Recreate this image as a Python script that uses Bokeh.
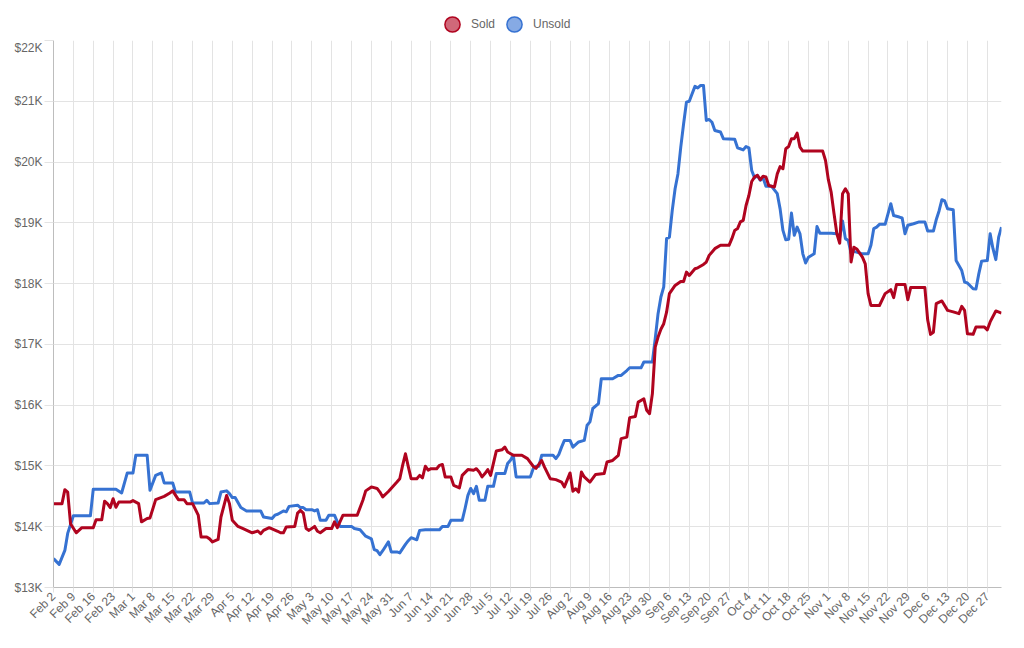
from datetime import date, datetime
from bokeh.plotting import figure
from bokeh.layouts import column
from bokeh.models import FixedTicker, Legend, LegendItem, Range1d
from bokeh.embed import file_html
from bokeh.resources import INLINE

# ---- data (x = days since 2020-02-02) ----
unsold_day = [0, 2, 4, 5, 7, 13, 14, 22, 24, 26, 28, 29, 33, 34, 36, 38, 39, 42, 43, 48,
              49, 53, 54, 55, 58, 59, 61, 62, 63, 64, 66, 68, 73, 74, 77, 78, 79, 81, 82, 83,
              86, 87, 88, 89, 91, 92, 93, 94, 96, 97, 99, 100, 101, 105, 106, 108, 110, 112, 113, 114,
              115, 116, 118, 119, 121, 122, 124, 125, 126, 128, 129, 131, 136, 137, 139, 140, 144, 145, 146, 147,
              148, 149, 150, 152, 153, 155, 156, 159, 160, 161, 162, 163, 168, 169, 170, 171, 172, 176, 177, 178,
              179, 180, 182, 183, 185, 187, 188, 189, 190, 192, 193, 197, 199, 200, 202, 203, 207, 208, 211, 212,
              213, 214, 215, 216, 217, 218, 219, 220, 221, 222, 223, 224, 225, 226, 227, 228, 229, 230, 231, 232,
              233, 235, 236, 240, 241, 243, 244, 245, 246, 247, 248, 249, 250, 251, 253, 255, 256, 257, 258, 259,
              260, 261, 262, 263, 264, 265, 266, 268, 269, 270, 274, 276, 277, 278, 279, 280, 281, 282, 285, 287,
              288, 289, 290, 291, 293, 295, 296, 298, 299, 300, 301, 303, 305, 307, 308, 310, 311, 312, 313, 314,
              315, 317, 318, 320, 321, 322, 324, 325, 326, 327, 329, 330, 331, 332, 333, 334]
unsold_value = [13475, 13380, 13610, 13890, 14180, 14180, 14615, 14615, 14555, 14885, 14885, 15175, 15175, 14600, 14845, 14885, 14720, 14720, 14570, 14570,
                14390, 14390, 14435, 14380, 14390, 14570, 14590, 14545, 14480, 14480, 14315, 14260, 14260, 14160, 14135, 14190, 14205, 14260, 14245, 14335,
                14355, 14315, 14315, 14280, 14280, 14260, 14280, 14105, 14105, 14190, 14190, 14080, 14005, 14005, 13970, 13950, 13845, 13800, 13625, 13605,
                13540, 13605, 13750, 13585, 13585, 13570, 13710, 13770, 13820, 13785, 13940, 13950, 13950, 14005, 14005, 14105, 14105, 14300, 14515, 14630,
                14545, 14665, 14435, 14435, 14665, 14665, 14875, 14875, 15040, 15095, 15175, 14820, 14820, 14955, 14995, 14995, 15175, 15175, 15120, 15185,
                15310, 15420, 15420, 15310, 15395, 15420, 15670, 15725, 15945, 16025, 16435, 16435, 16490, 16490, 16570, 16615, 16615, 16710, 16710, 17095,
                17505, 17780, 17945, 18740, 18765, 19205, 19560, 19805, 20245, 20630, 20985, 21000, 21125, 21245, 21220, 21260, 21260, 20685, 20700, 20655,
                20520, 20495, 20385, 20375, 20235, 20200, 20255, 20235, 19860, 19740, 19780, 19700, 19740, 19600, 19600, 19480, 19230, 18875, 18720, 18730,
                19160, 18795, 18930, 18820, 18490, 18340, 18435, 18490, 18940, 18830, 18830, 18820, 18765, 19030, 18740, 18710, 18500, 18530, 18490, 18490,
                18630, 18905, 18930, 18975, 18975, 19315, 19120, 19095, 19080, 18820, 18960, 18985, 19015, 19015, 18865, 18865, 19050, 19195, 19380, 19360,
                19230, 19215, 18380, 18215, 18025, 18010, 17915, 17910, 18160, 18370, 18380, 18820, 18575, 18395, 18765, 18930]

sold_day = [0, 3, 4, 5, 6, 8, 10, 14, 15, 17, 18, 19, 20, 21, 22, 23, 27, 28, 30, 31,
            33, 34, 36, 39, 41, 42, 44, 46, 47, 49, 51, 52, 54, 55, 56, 58, 59, 61, 62, 63,
            65, 67, 70, 72, 73, 74, 76, 79, 80, 81, 82, 85, 86, 87, 88, 89, 90, 92, 93, 94,
            96, 98, 99, 100, 102, 107, 109, 110, 112, 114, 115, 116, 118, 121, 122, 123, 124, 125, 126, 128,
            129, 130, 131, 132, 133, 135, 136, 137, 138, 140, 141, 143, 144, 146, 148, 149, 150, 151, 152, 153,
            154, 156, 158, 159, 160, 162, 165, 167, 169, 170, 172, 173, 175, 177, 179, 180, 182, 183, 184, 185,
            186, 187, 189, 191, 194, 195, 197, 199, 200, 202, 203, 205, 206, 208, 209, 210, 211, 212, 213, 214,
            215, 216, 217, 219, 221, 222, 223, 224, 226, 227, 229, 230, 231, 233, 235, 238, 239, 240, 241, 242,
            243, 244, 245, 246, 247, 248, 249, 250, 251, 252, 254, 255, 256, 257, 258, 259, 260, 261, 262, 263,
            264, 271, 272, 273, 274, 275, 276, 277, 278, 279, 280, 281, 282, 283, 285, 286, 287, 288, 291, 293,
            295, 296, 297, 300, 301, 302, 307, 308, 309, 310, 311, 313, 315, 317, 319, 320, 321, 322, 324, 325,
            328, 329, 330, 332, 334]
sold_value = [14380, 14380, 14610, 14570, 14050, 13900, 13985, 13985, 14115, 14115, 14420, 14380, 14315, 14460, 14320, 14405, 14405, 14430, 14380, 14080,
              14135, 14145, 14445, 14500, 14555, 14590, 14445, 14445, 14380, 14380, 14190, 13830, 13830, 13800, 13750, 13790, 14160, 14515, 14380, 14105,
              14005, 13965, 13900, 13930, 13885, 13940, 13985, 13925, 13900, 13900, 13995, 14005, 14225, 14270, 14225, 13970, 13940, 14005, 13925, 13900,
              13970, 13970, 14080, 13985, 14190, 14190, 14435, 14590, 14655, 14630, 14570, 14490, 14580, 14735, 14790, 15010, 15200, 14990, 14790, 14790,
              14845, 14805, 14995, 14930, 14955, 14955, 15010, 15025, 14820, 14820, 14680, 14640, 14845, 14940, 14930, 14955, 14900, 14820, 14875, 14940,
              14845, 15245, 15265, 15310, 15230, 15175, 15175, 15120, 14995, 14960, 15090, 14980, 14790, 14775, 14735, 14655, 14885, 14585, 14625, 14570,
              14900, 14820, 14735, 14860, 14875, 15065, 15090, 15175, 15450, 15475, 15795, 15815, 16050, 16105, 15915, 15860, 16190, 16955, 17120, 17250,
              17340, 17530, 17835, 17970, 18035, 18035, 18190, 18135, 18245, 18260, 18315, 18355, 18465, 18575, 18630, 18630, 18740, 18875, 18905, 19015,
              19040, 19285, 19450, 19680, 19755, 19780, 19710, 19765, 19755, 19615, 19590, 19805, 19925, 19890, 20220, 20255, 20385, 20385, 20475, 20245,
              20180, 20180, 20025, 19710, 19500, 19150, 18820, 18665, 19480, 19560, 19480, 18355, 18600, 18570, 18435, 18325, 17835, 17640, 17640, 17835,
              17900, 17770, 17985, 17985, 17735, 17935, 17935, 17400, 17165, 17200, 17670, 17715, 17560, 17535, 17505, 17625, 17560, 17175, 17165, 17285,
              17285, 17240, 17370, 17550, 17515]

x_tick_labels = ["Feb 2", "Feb 9", "Feb 16", "Feb 23", "Mar 1", "Mar 8", "Mar 15", "Mar 22", "Mar 29",
                 "Apr 5", "Apr 12", "Apr 19", "Apr 26", "May 3", "May 10", "May 17", "May 24", "May 31",
                 "Jun 7", "Jun 14", "Jun 21", "Jun 28", "Jul 5", "Jul 12", "Jul 19", "Jul 26",
                 "Aug 2", "Aug 9", "Aug 16", "Aug 23", "Aug 30", "Sep 6", "Sep 13", "Sep 20", "Sep 27",
                 "Oct 4", "Oct 11", "Oct 18", "Oct 25", "Nov 1", "Nov 8", "Nov 15", "Nov 22", "Nov 29",
                 "Dec 6", "Dec 13", "Dec 20", "Dec 27"]
y_tick_values = [13000, 14000, 15000, 16000, 17000, 18000, 19000, 20000, 21000, 22000]
y_tick_labels = ["$13K", "$14K", "$15K", "$16K", "$17K", "$18K", "$19K", "$20K", "$21K", "$22K"]
series_names = ["Sold", "Unsold"]

RED = "#b0041f"
BLUE = "#3672d2"
FONT = "Liberation Sans"
TXT = "#666666"

start = date(2020, 2, 2)
x_tick_pos = [(datetime.strptime(l + " 2020", "%b %d %Y").date() - start).days for l in x_tick_labels]

# ---- main chart ----
p = figure(width=1024, height=608, output_backend="svg", toolbar_location=None,
           x_range=Range1d(0, max(sold_day[-1], unsold_day[-1])),
           y_range=Range1d(13000, 22000),
           min_border_left=53, min_border_right=23, min_border_top=0, min_border_bottom=61)
p.outline_line_color = None
p.background_fill_color = "white"

p.xaxis.ticker = FixedTicker(ticks=x_tick_pos)
p.xaxis.major_label_overrides = {pos: lab for pos, lab in zip(x_tick_pos, x_tick_labels)}
p.xaxis.major_label_orientation = 0.785398
p.yaxis.ticker = FixedTicker(ticks=y_tick_values)
p.yaxis.major_label_overrides = {v: lab for v, lab in zip(y_tick_values, y_tick_labels)}

for ax in (p.xaxis[0], p.yaxis[0]):
    ax.axis_line_color = "#bdbdbd"
    ax.axis_line_width = 1
    ax.major_tick_line_color = "#e3e3e3"
    ax.minor_tick_line_color = None
    ax.major_tick_in = 0
    ax.major_label_text_font = FONT
    ax.major_label_text_font_size = "12px"
    ax.major_label_text_color = TXT
p.yaxis.major_tick_out = 9
p.yaxis.major_label_standoff = 2
p.xaxis.major_tick_out = 5
p.xaxis.major_label_standoff = 2

p.xgrid.grid_line_color = "#e3e3e3"
p.ygrid.grid_line_color = "#e3e3e3"

p.line(unsold_day, unsold_value, line_color=BLUE, line_width=3, line_join="round")
p.line(sold_day, sold_value, line_color=RED, line_width=3, line_join="round")

# ---- legend strip above the chart ----
lg = figure(width=1024, height=40, output_backend="svg", toolbar_location=None,
            x_range=Range1d(0, 1), y_range=Range1d(0, 1),
            x_axis_location=None, y_axis_location=None, min_border=0)
lg.outline_line_color = None
lg.xgrid.visible = False
lg.ygrid.visible = False

nan = float("nan")
leg_sold = lg.scatter([nan], [nan], marker="circle", size=16, fill_color=RED, fill_alpha=0.6,
                      line_color=RED, line_width=1.5)
leg_unsold = lg.scatter([nan], [nan], marker="circle", size=16, fill_color=BLUE, fill_alpha=0.6,
                        line_color=BLUE, line_width=1.5)
legend = Legend(items=[LegendItem(label=series_names[0], renderers=[leg_sold]),
                       LegendItem(label=series_names[1], renderers=[leg_unsold])],
                orientation="horizontal", location=(380, -3),
                border_line_color=None, background_fill_alpha=0,
                label_text_font=FONT, label_text_font_size="12px", label_text_color=TXT,
                glyph_width=38, glyph_height=38, label_standoff=0, spacing=0,
                padding=0, margin=0, label_height=18)
lg.add_layout(legend)

layout = column(lg, p, spacing=0)
open("out.html", "w").write(file_html(layout, INLINE))
